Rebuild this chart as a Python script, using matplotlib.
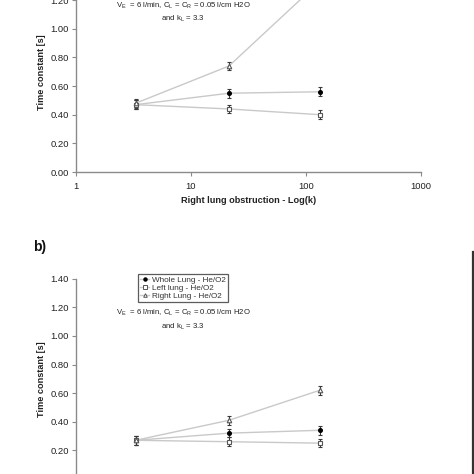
import matplotlib
matplotlib.use("Agg")
import matplotlib.pyplot as plt
from matplotlib.lines import Line2D
from matplotlib.ticker import FixedLocator, FixedFormatter, NullLocator

plt.rcParams['font.family'] = ['Liberation Sans', 'DejaVu Sans']
plt.rcParams['mathtext.fontset'] = 'custom'
plt.rcParams['mathtext.rm'] = 'Liberation Sans'

# ---- data ----
k_right = [3.3, 21.4, 132]

a_whole = [0.47, 0.55, 0.56]
a_whole_err = [0.03, 0.03, 0.03]
a_left = [0.47, 0.44, 0.40]
a_left_err = [0.03, 0.03, 0.03]
a_right = [0.48, 0.74, 1.33]
a_right_err = [0.03, 0.03, 0.03]

b_whole = [0.27, 0.32, 0.34]
b_whole_err = [0.03, 0.03, 0.03]
b_left = [0.27, 0.26, 0.25]
b_left_err = [0.03, 0.03, 0.03]
b_right = [0.27, 0.41, 0.62]
b_right_err = [0.03, 0.03, 0.03]

series_names = ["Whole Lung - He/O2", "Left lung - He/O2", "Right Lung - He/O2"]
y_ticks = [0.0, 0.2, 0.4, 0.6, 0.8, 1.0, 1.2, 1.4]
y_tick_labels = ["0.00", "0.20", "0.40", "0.60", "0.80", "1.00", "1.20", "1.40"]
x_ticks = [1, 10, 100, 1000]
x_tick_labels = ["1", "10", "100", "1000"]

W = 474.0
fig = plt.figure(figsize=(4.74, 4.74), dpi=100)

line_col = '#c9c9c9'
err_col = '#3a3a3a'
spine_col = '#8a8a8a'
markers = [dict(marker='o', mfc='black', mec='black', ms=2.6),
           dict(marker='s', mfc='white', mec='#555555', ms=3.0, mew=0.8),
           dict(marker='^', mfc='white', mec='#555555', ms=3.3, mew=0.8)]
leg_markers = [dict(marker='o', mfc='black', mec='black', ms=2.2),
               dict(marker='s', mfc='white', mec='#555555', ms=2.4, mew=0.7),
               dict(marker='^', mfc='white', mec='#555555', ms=2.6, mew=0.7)]


def make_panel(rect, whole, we, left, le, right, re):
    ax = fig.add_axes(rect)
    ax.set_xscale('log')
    ax.set_xlim(1, 1000)
    ax.set_ylim(0, 1.4)
    for ys, es, mk in zip([whole, left, right], [we, le, re], markers):
        ax.plot(k_right, ys, color=line_col, lw=1.0, zorder=1)
        ax.errorbar(k_right, ys, yerr=es, fmt='none', ecolor=err_col,
                    elinewidth=0.8, capsize=1.6, capthick=0.8, zorder=2)
        ax.plot(k_right, ys, linestyle='none', zorder=3, **mk)
    for s in ['top', 'right']:
        ax.spines[s].set_visible(False)
    for s in ['left', 'bottom']:
        ax.spines[s].set_color(spine_col)
        ax.spines[s].set_linewidth(1.0)
    ax.yaxis.set_major_locator(FixedLocator(y_ticks))
    ax.yaxis.set_major_formatter(FixedFormatter(y_tick_labels))
    ax.xaxis.set_major_locator(FixedLocator(x_ticks))
    ax.xaxis.set_major_formatter(FixedFormatter(x_tick_labels))
    ax.xaxis.set_minor_locator(NullLocator())
    ax.tick_params(axis='both', which='major', length=3, width=0.8,
                   color=spine_col, labelsize=6.8, labelcolor='#222222', pad=2)
    ax.tick_params(axis='x', pad=4)
    ax.set_ylabel("Time constant [s]", fontsize=6.6, fontweight='bold',
                  color='#222222', labelpad=3)
    ax.set_xlabel("Right lung obstruction - Log(k)", fontsize=6.6,
                  fontweight='bold', color='#222222', labelpad=4)
    ax.text(0.31, 0.795,
            "V$_\\mathregular{E}$  = 6 l/min, C$_\\mathregular{L}$ = C$_\\mathregular{R}$ = 0.05 l/cm H2O\nand k$_\\mathregular{L}$ = 3.3",
            transform=ax.transAxes, ha='center', va='center', fontsize=5.6,
            color='#222222', multialignment='center', linespacing=1.4)
    handles = [Line2D([0], [0], color=line_col, lw=1.0, **mk) for mk in leg_markers]
    leg = ax.legend(handles, series_names, loc='upper left',
                    bbox_to_anchor=(0.180, 1.023), fontsize=5.9, frameon=True,
                    fancybox=False, edgecolor='#333333', handlelength=1.1,
                    handletextpad=0.3, borderpad=0.25, labelspacing=0.05,
                    borderaxespad=0)
    leg.get_frame().set_linewidth(0.9)
    for t in leg.get_texts():
        t.set_color('#333333')
    return ax


left = 76 / W
width = 345 / W
# panel a (top), y: 0 at 172px, 1.40 at -28.6px
y0a = 172.0
ya_top = 172.0 - 7 * 28.65
make_panel([left, (W - y0a) / W, width, (y0a - ya_top) / W],
           a_whole, a_whole_err, a_left, a_left_err, a_right, a_right_err)

# panel b (bottom), 1.40 at 278.7px, 0 at 478.9px
yb_top = 278.7
y0b = 478.9
make_panel([left, (W - y0b) / W, width, (y0b - yb_top) / W],
           b_whole, b_whole_err, b_left, b_left_err, b_right, b_right_err)

fig.text(33 / W, (W - 247) / W, "b)", fontsize=10, fontweight='bold',
         ha='left', va='center', color='#111111')

# frame edge at right
fig.add_artist(Line2D([472.7 / W, 472.7 / W], [0, (W - 252) / W],
                      color='#333333', lw=1.6, transform=fig.transFigure))

fig.savefig("out.png", dpi=100)
